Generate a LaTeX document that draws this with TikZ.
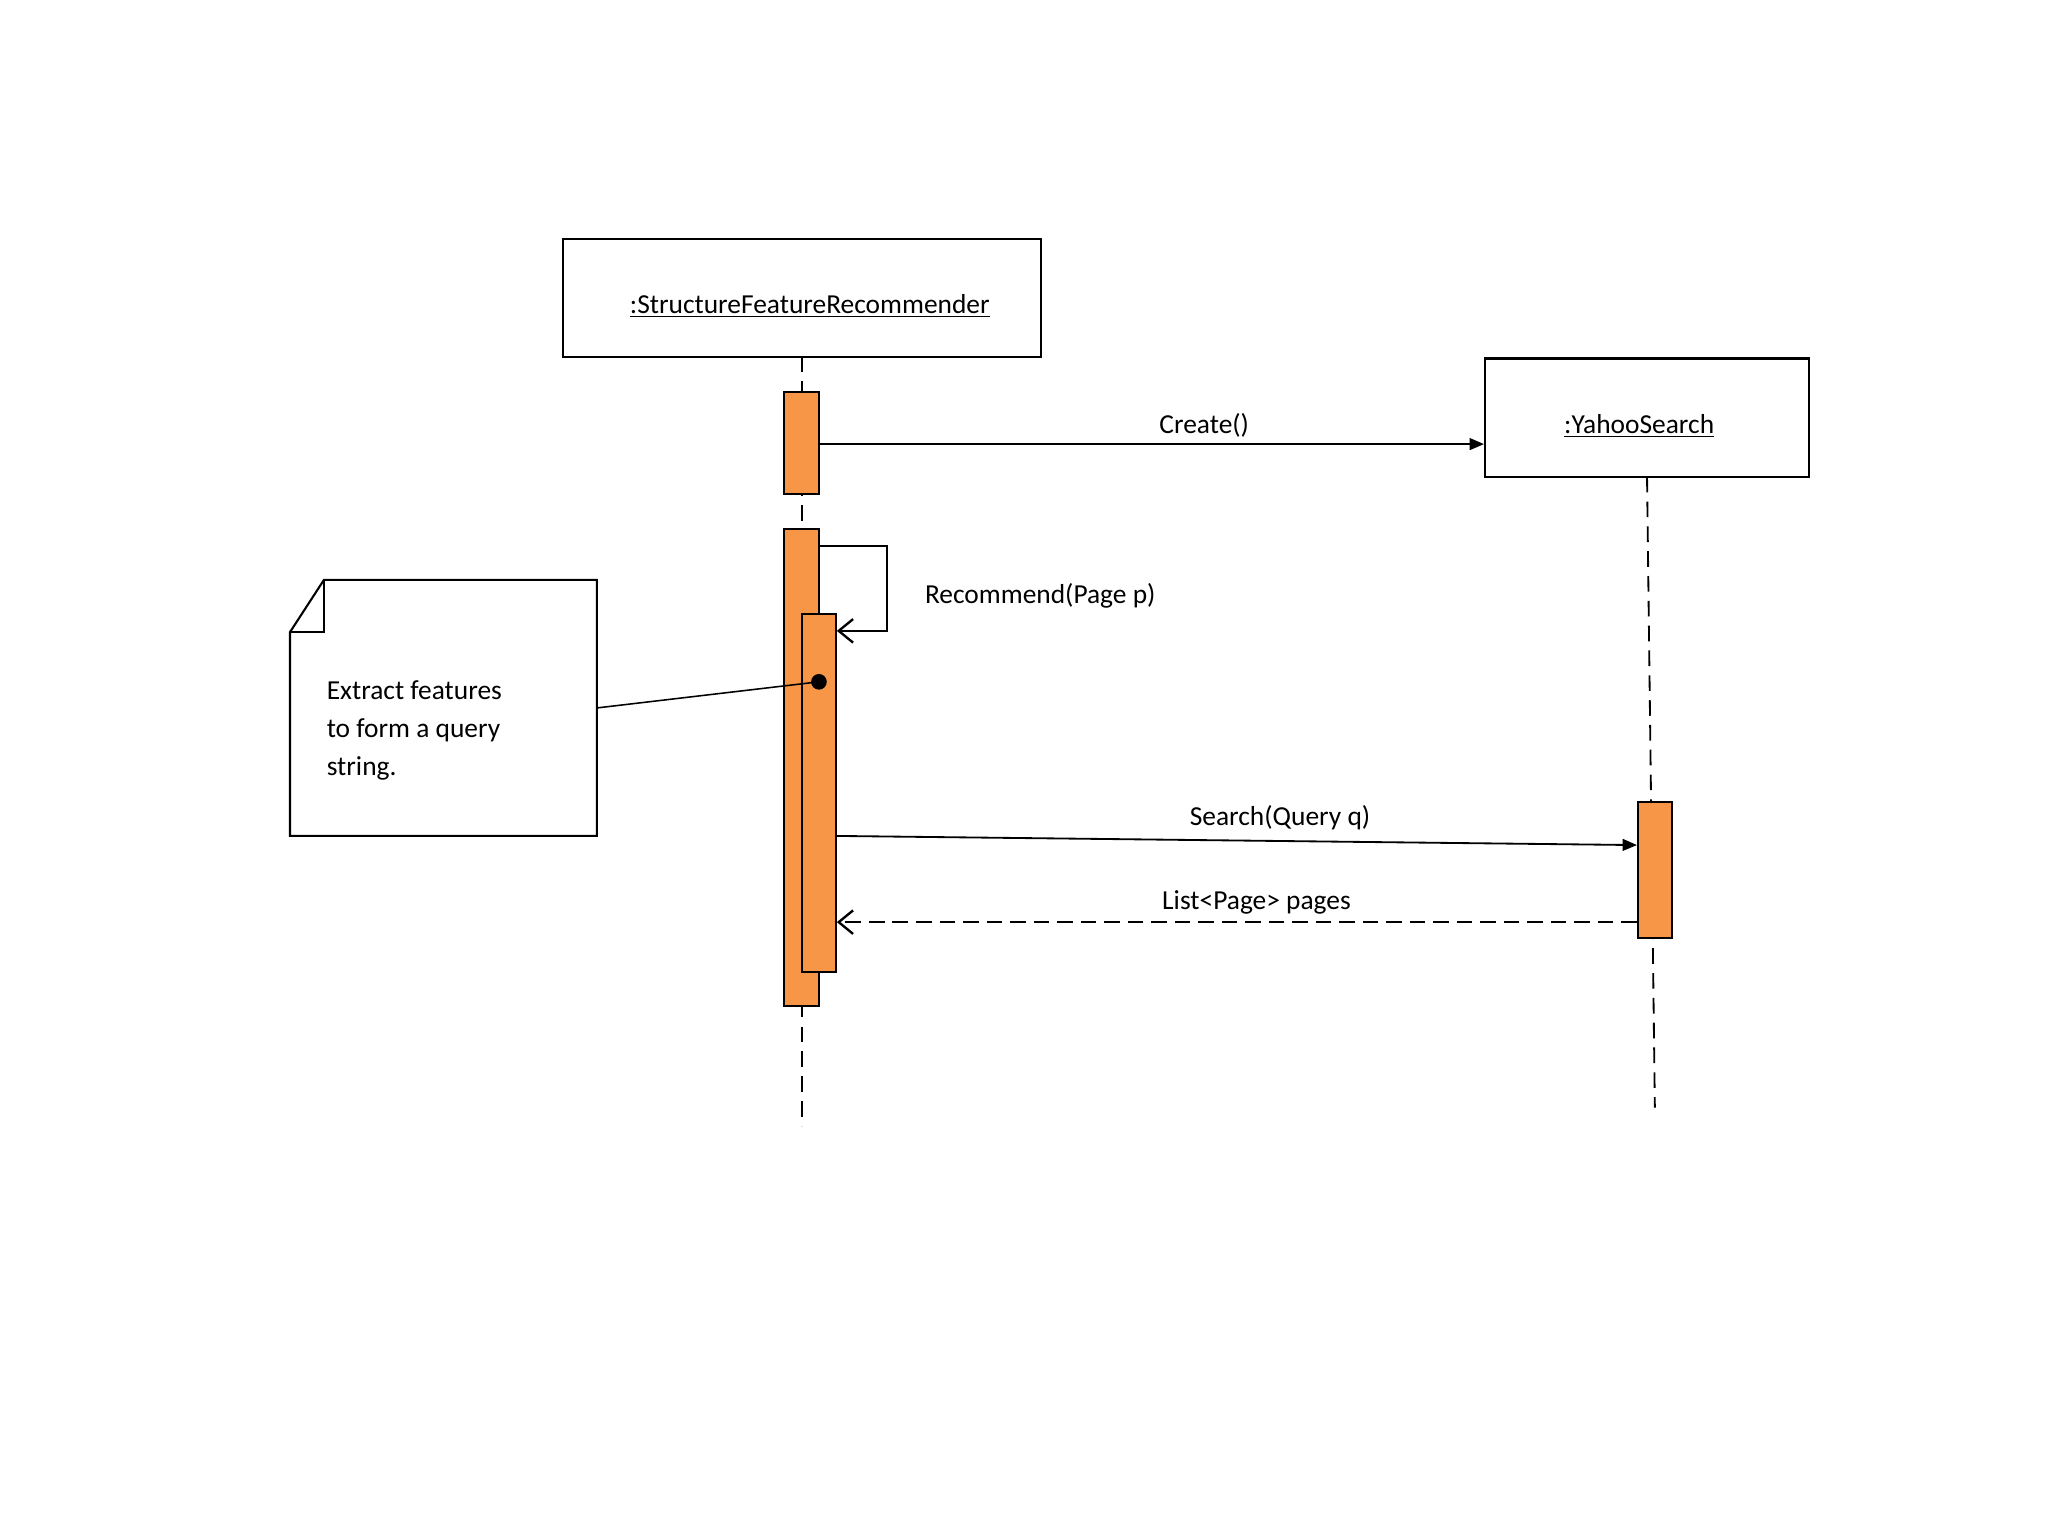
\documentclass[tikz,border=0pt]{standalone}
\usepackage{fontspec}
\setmainfont{Carlito}
\usetikzlibrary{arrows.meta}
\begin{document}
\begin{tikzpicture}[x=1pt,y=-1pt,
 obj/.style={draw,line width=1.6pt,fill=white},
 act/.style={draw,line width=1.4pt,fill=orange!75!yellow!90!red},
 life/.style={line width=1.4pt,dash pattern=on 12pt off 7pt},
 msg/.style={line width=1.4pt},
 lbl/.style={font=\fontsize{21}{25}\selectfont,inner sep=0pt}]
\useasboundingbox (0,0) rectangle (1568,1176);
\definecolor{actc}{RGB}{247,150,70}
\tikzset{act/.style={draw,line width=1.4pt,fill=actc}}
% lifelines
\coordinate (l1t) at (614,273); \coordinate (l1b) at (614,862);
\draw[life] (l1t) -- (l1b);
\coordinate (l2t) at (1261,365); \coordinate (l2b) at (1267,848);
\draw[life] (l2t) -- (l2b);
% objects
\node[obj,minimum width=366pt,minimum height=90pt] (o1) at (614,228) {};
\node[lbl] at (620,234) {\underline{:StructureFeatureRecommender}};
\node[obj,minimum width=248pt,minimum height=91pt] (o2) at (1261,320) {};
\node[lbl] at (1255,326) {\underline{:YahooSearch}};
% activations
\node[act,minimum width=27pt,minimum height=78pt,inner sep=0pt] (a1) at (613.5,339) {};
\node[act,minimum width=27pt,minimum height=365pt,inner sep=0pt] (a2) at (613.5,587.5) {};
\node[act,minimum width=26pt,minimum height=274pt,inner sep=0pt] (a3) at (627,607) {};
\node[act,minimum width=26pt,minimum height=104pt,inner sep=0pt] (b1) at (1267,666) {};
% create
\draw[msg,-{Triangle[length=11pt,width=9pt]}] (a1.east |- 0,340) -- (o2.west |- 0,340);
\node[lbl] at (922,326) {Create()};
% self message
\coordinate (s1) at (679,418); \coordinate (s2) at (679,483);
\draw[msg,-{Straight Barb[length=11pt,width=18pt,line width=1.8pt]}] (a2.east |- 0,418) -- (s1) -- (s2) -- (a3.east |- 0,483);
\node[lbl,anchor=west] at (708,456) {Recommend(Page p)};
% search
\draw[msg,-{Triangle[length=11pt,width=9pt]}] (a3.east |- 0,640) -- (b1.west |- 0,647);
\node[lbl] at (980,626) {Search(Query q)};
\draw[msg,dash pattern=on 12pt off 6pt,-{Straight Barb[length=11pt,width=18pt,line width=1.8pt]}] (b1.west |- 0,706) -- (a3.east |- 0,706);
\node[lbl] at (962,691) {List<Page> pages};
% note
\draw[line width=1.6pt,fill=white] (248,444) -- (457,444) -- (457,640) -- (222,640) -- (222,484) -- cycle;
\draw[line width=1.2pt] (248,444) -- (248,484) -- (222,484);
\coordinate (n1) at (457,542);
\node[lbl,anchor=north west,align=left,font=\fontsize{21}{29}\selectfont] (nt) at (250,521) {Extract features\\to form a query\\string.};
\coordinate (dot) at (627,522);
\draw[line width=1.2pt] (n1) -- (dot);
\fill (dot) circle (6pt);
\end{tikzpicture}
\end{document}
